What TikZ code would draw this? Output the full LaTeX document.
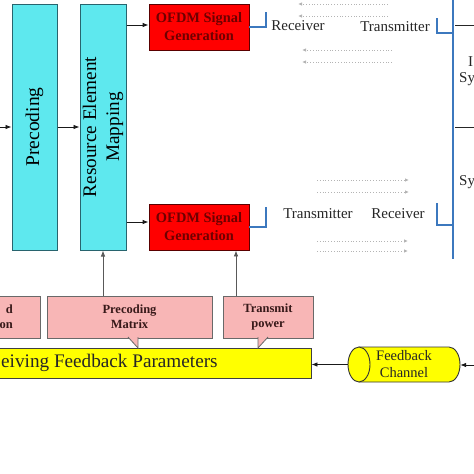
\documentclass[tikz,border=0pt]{standalone}
\usepackage{fontspec}
\setmainfont{Liberation Serif}
\usetikzlibrary{arrows.meta,shapes.geometric}
\definecolor{cyanf}{RGB}{94,232,238}
\definecolor{cyand}{RGB}{40,100,110}
\definecolor{redf}{RGB}{255,0,0}
\definecolor{redd}{RGB}{90,0,0}
\definecolor{redt}{RGB}{110,0,0}
\definecolor{pinkf}{RGB}{248,182,182}
\definecolor{grayd}{RGB}{105,105,105}
\definecolor{pinkt}{RGB}{55,25,25}
\definecolor{yelf}{RGB}{255,255,0}
\definecolor{antb}{RGB}{60,120,190}
\definecolor{dotg}{RGB}{180,180,180}
\begin{document}
\begin{tikzpicture}[x=1pt,y=-1pt,
  cyanbox/.style={draw=cyand,fill=cyanf,line width=1pt,inner sep=0pt},
  redbox/.style={draw=redd,fill=redf,line width=0.8pt,inner sep=0pt,minimum width=100pt,minimum height=46pt,align=center,text=redt,font=\bfseries\fontsize{14.4}{18}\selectfont},
  txt/.style={inner sep=0pt,font=\fontsize{15}{18}\selectfont,text=black!85},
  pinkbox/.style={draw=grayd,fill=pinkf,line width=0.8pt,inner sep=0pt,minimum height=42pt,align=center,text=pinkt,font=\bfseries\fontsize{12.5}{15}\selectfont},
  ptr/.style={draw=grayd,fill=pinkf,line width=0.8pt},
  arr/.style={draw=black!90,line width=0.8pt,-{Latex[length=6pt,width=4.5pt]}},
  varr/.style={draw=black!65,line width=0.8pt,-{Latex[length=6pt,width=4.5pt]}},
  ant/.style={draw=antb,line width=1.8pt},
  dotarr/.style={draw=dotg,line width=0.8pt,dotted,-{Latex[length=4pt,width=3.5pt]}},
  sysline/.style={draw=black!85,line width=0.9pt},
  cylline/.style={draw=black!80,fill=yelf,line width=0.9pt}
]
\useasboundingbox (0,0) rectangle (474,474);
\clip (0,0) rectangle (474,474);

% main blocks
\node[cyanbox,minimum width=45pt,minimum height=246pt] (prec) at (34.5,127)
  {\rotatebox{90}{\fontsize{19.5}{22}\selectfont Precoding}};
\node[cyanbox,minimum width=46pt,minimum height=246pt] (rem) at (103,127)
  {\rotatebox{90}{\fontsize{19.2}{23}\selectfont\begin{tabular}{@{}c@{}}Resource Element\\Mapping\end{tabular}}};
\node[redbox] (o1) at (199,27) {\color{redt}OFDM Signal\\\color{redt}Generation};
\node[redbox] (o2) at (199,227) {\color{redt}OFDM Signal\\\color{redt}Generation};

\coordinate (in) at (0,127);
\draw[arr] (in) -- (prec.west);
\draw[arr] (prec.east) -- (rem.west);
\draw[arr] (rem.east |- 0,25) -- (o1.west |- 0,25);
\draw[arr] (rem.east |- 0,222) -- (o2.west |- 0,222);

% antennas
\coordinate (a1) at (266,12);
\coordinate (a2) at (266,207);
\draw[ant] (o1.east) -| (a1);
\draw[ant] (o2.east) -| (a2);
\coordinate (b1) at (437,18);
\coordinate (b2) at (437,203);
\coordinate (bus1) at (453,-2);
\coordinate (bus2) at (453,259);
\draw[ant] (b1) |- (453,33);
\draw[ant] (b2) |- (453,225);
\draw[ant] (bus1) -- (bus2);
\coordinate (s1) at (455,25);
\coordinate (s2) at (455,127);
\draw[sysline] (s1) -- ++(20,0);
\draw[sysline] (s2) -- ++(20,0);

% texts
\node[txt] (r1) at (298,26) {Receiver};
\node[txt] (t1) at (395,27) {Transmitter};
\node[txt] (t2) at (318,214) {Transmitter};
\node[txt] (r2) at (398,214) {Receiver};
\node[txt,anchor=west] (sys1a) at (468,62) {I};
\node[txt,anchor=west] (sys1b) at (459,79) {Sy};
\node[txt,anchor=west] (sys2) at (459,182) {Sy};

% dotted arrows
\foreach \y in {4,16} \draw[dotarr] (388,\y) -- (298,\y);
\foreach \y in {50,62} \draw[dotarr] (392,\y) -- (302,\y);
\foreach \y in {180,192} \draw[dotarr] (317,\y) -- (409,\y);
\foreach \y in {241,251} \draw[dotarr] (317,\y) -- (408,\y);

% feedback bar
\node[draw=black!75,fill=yelf,line width=0.9pt,minimum width=316pt,minimum height=30pt,inner sep=0pt] (bar) at (153,363) {};
\node[inner sep=0pt,anchor=west,font=\fontsize{19.2}{22}\selectfont,text=black!85] (bart) at (1,363) {eiving Feedback Parameters};

% pink callouts
\node[pinkbox,minimum width=45pt] (pb1) at (17.5,317) {};
\node[inner sep=0pt,anchor=east,align=right,text=pinkt,font=\bfseries\fontsize{12.5}{15}\selectfont] (pb1t) at (13,317) {d\\on};
\node[pinkbox,minimum width=165pt] (pm) at (129.5,317) {Precoding\\Matrix};
\node[pinkbox,minimum width=90pt] (tp) at (268,317) {Transmit\\power};
\filldraw[ptr] (128,337) -- (138,348) -- (138,337);
\filldraw[ptr] (258,337) -- (258,348) -- (268,337);

\draw[varr] (pm.north -| rem.south) -- (rem.south);
\draw[varr] ([xshift=-32pt]tp.north) -- ([xshift=-32pt]tp.north |- o2.south);

% feedback channel (cylinder drawn by hand)
\path[cylline] (359,347) -- (449,347) arc[start angle=-90,end angle=90,x radius=11,y radius=17.5] -- (359,382) -- cycle;
\draw[cylline] (359,364.5) ellipse[x radius=11,y radius=17.5];
\node[inner sep=0pt,minimum width=112pt,minimum height=35pt,align=center,
      font=\fontsize{14.5}{17}\selectfont,text=black!85] (fc) at (404,364.5) {Feedback\\Channel};
\coordinate (fin) at (476,365);
\draw[arr] (fin) -- (fc.east |- fin);
\draw[arr] (fc.west) -- (bar.east |- fc.west);
\end{tikzpicture}
\end{document}
